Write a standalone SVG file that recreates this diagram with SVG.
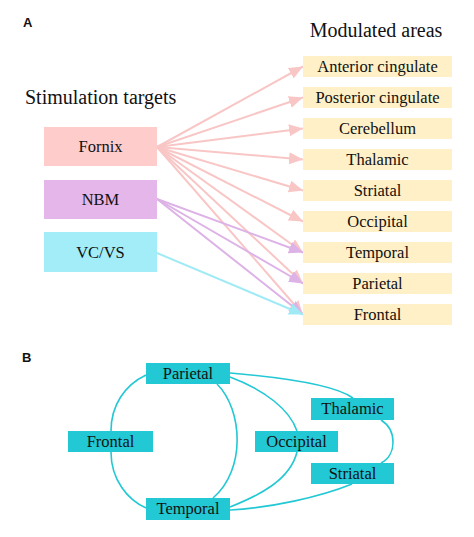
<svg xmlns="http://www.w3.org/2000/svg" width="474" height="537" viewBox="0 0 474 537">
<style>
.t{font-family:"Liberation Serif","Times New Roman",serif;font-size:16.5px;fill:#111;text-anchor:middle}
.h{font-family:"Liberation Serif","Times New Roman",serif;font-size:20px;fill:#111}
.p{font-family:"Liberation Sans",Arial,sans-serif;font-size:13px;font-weight:bold;fill:#111}
.mod{fill:#FFF0C8}
.b{fill:#22C8D4}
.e{fill:none;stroke:#22C8D4;stroke-width:1.6}
.af{stroke:#F9C6C6;stroke-width:2;fill:none}
.an{stroke:#DDB2E6;stroke-width:2;fill:none}
.av{stroke:#A0EAF6;stroke-width:2;fill:none}
</style>
<defs>
<marker id="mf" markerUnits="userSpaceOnUse" markerWidth="15" markerHeight="13" refX="14" refY="6" orient="auto"><path d="M0,0 L14,6 L0,12 z" fill="#F9C6C6"/></marker>
<marker id="mn" markerUnits="userSpaceOnUse" markerWidth="15" markerHeight="13" refX="14" refY="6" orient="auto"><path d="M0,0 L14,6 L0,12 z" fill="#DDB2E6"/></marker>
<marker id="mv" markerUnits="userSpaceOnUse" markerWidth="15" markerHeight="13" refX="14" refY="6" orient="auto"><path d="M0,0 L14,6 L0,12 z" fill="#A0EAF6"/></marker>
</defs>
<rect width="474" height="537" fill="#fff"/>
<text class="p" x="23" y="27">A</text>
<text class="h" x="376" y="37" text-anchor="middle">Modulated areas</text>
<text class="h" x="25" y="104">Stimulation targets</text>
<g id="connectors-a">
<line class="af" x1="157" y1="147" x2="303" y2="66.5" marker-end="url(#mf)"/>
<line class="af" x1="157" y1="147" x2="303" y2="97.5" marker-end="url(#mf)"/>
<line class="af" x1="157" y1="147" x2="303" y2="128.5" marker-end="url(#mf)"/>
<line class="af" x1="157" y1="147" x2="303" y2="159.5" marker-end="url(#mf)"/>
<line class="af" x1="157" y1="147" x2="303" y2="190.5" marker-end="url(#mf)"/>
<line class="af" x1="157" y1="147" x2="303" y2="221.5" marker-end="url(#mf)"/>
<line class="af" x1="157" y1="147" x2="303" y2="252.5" marker-end="url(#mf)"/>
<line class="af" x1="157" y1="147" x2="303" y2="283.5" marker-end="url(#mf)"/>
<line class="af" x1="157" y1="147" x2="303" y2="314.5" marker-end="url(#mf)"/>
<line class="an" x1="157" y1="199" x2="303" y2="252.5" marker-end="url(#mn)"/>
<line class="an" x1="157" y1="199" x2="303" y2="283.5" marker-end="url(#mn)"/>
<line class="an" x1="157" y1="199" x2="303" y2="314.5" marker-end="url(#mn)"/>
<line class="av" x1="157" y1="253" x2="303" y2="314.5" marker-end="url(#mv)"/>
</g>
<g id="fornix"><rect x="44" y="127" width="113" height="39" fill="#FFCCCC"/><text class="t" x="100.5" y="152">Fornix</text></g>
<g id="nbm"><rect x="44" y="180" width="113" height="39" fill="#E5B6E9"/><text class="t" x="100.5" y="205">NBM</text></g>
<g id="vcvs"><rect x="44" y="232" width="113" height="40" fill="#A2EDF8"/><text class="t" x="100.5" y="258">VC/VS</text></g>
<g id="m-anterior"><rect class="mod" x="303" y="56" width="149" height="21"/><text class="t" x="377.5" y="72">Anterior cingulate</text></g>
<g id="m-posterior"><rect class="mod" x="303" y="87" width="149" height="21"/><text class="t" x="377.5" y="103">Posterior cingulate</text></g>
<g id="m-cerebellum"><rect class="mod" x="303" y="118" width="149" height="21"/><text class="t" x="377.5" y="134">Cerebellum</text></g>
<g id="m-thalamic"><rect class="mod" x="303" y="149" width="149" height="21"/><text class="t" x="377.5" y="165">Thalamic</text></g>
<g id="m-striatal"><rect class="mod" x="303" y="180" width="149" height="21"/><text class="t" x="377.5" y="196">Striatal</text></g>
<g id="m-occipital"><rect class="mod" x="303" y="211" width="149" height="21"/><text class="t" x="377.5" y="227">Occipital</text></g>
<g id="m-temporal"><rect class="mod" x="303" y="242" width="149" height="21"/><text class="t" x="377.5" y="258">Temporal</text></g>
<g id="m-parietal"><rect class="mod" x="303" y="273" width="149" height="21"/><text class="t" x="377.5" y="289">Parietal</text></g>
<g id="m-frontal"><rect class="mod" x="303" y="304" width="149" height="21"/><text class="t" x="377.5" y="320">Frontal</text></g>
<text class="p" x="22" y="362">B</text>
<g id="connectors-b">
<path class="e" d="M146,375 C125,385 111,405 111,431"/>
<path class="e" d="M111,452 C111,480 128,500 146,508"/>
<path class="e" d="M217,384 C243,410 246,470 213,498"/>
<path class="e" d="M230,377 C265,390 290,410 297,431"/>
<path class="e" d="M297,452 C290,480 260,495 230,507"/>
<path class="e" d="M230,373 C290,378 335,385 353,398"/>
<path class="e" d="M381,420 C397,430 397,455 381,463"/>
<path class="e" d="M352,484 C320,497 270,508 230,510"/>
</g>
<g id="b-parietal"><rect class="b" x="146" y="363" width="84" height="21"/><text class="t" x="188" y="379">Parietal</text></g>
<g id="b-temporal"><rect class="b" x="146" y="498" width="84" height="22"/><text class="t" x="188" y="514">Temporal</text></g>
<g id="b-frontal"><rect class="b" x="68" y="431" width="85" height="21"/><text class="t" x="110.5" y="447">Frontal</text></g>
<g id="b-occipital"><rect class="b" x="255" y="431" width="83" height="21"/><text class="t" x="296.5" y="447">Occipital</text></g>
<g id="b-thalamic"><rect class="b" x="311" y="398" width="83" height="22"/><text class="t" x="352.5" y="414">Thalamic</text></g>
<g id="b-striatal"><rect class="b" x="311" y="463" width="83" height="21"/><text class="t" x="352.5" y="479">Striatal</text></g>
</svg>
